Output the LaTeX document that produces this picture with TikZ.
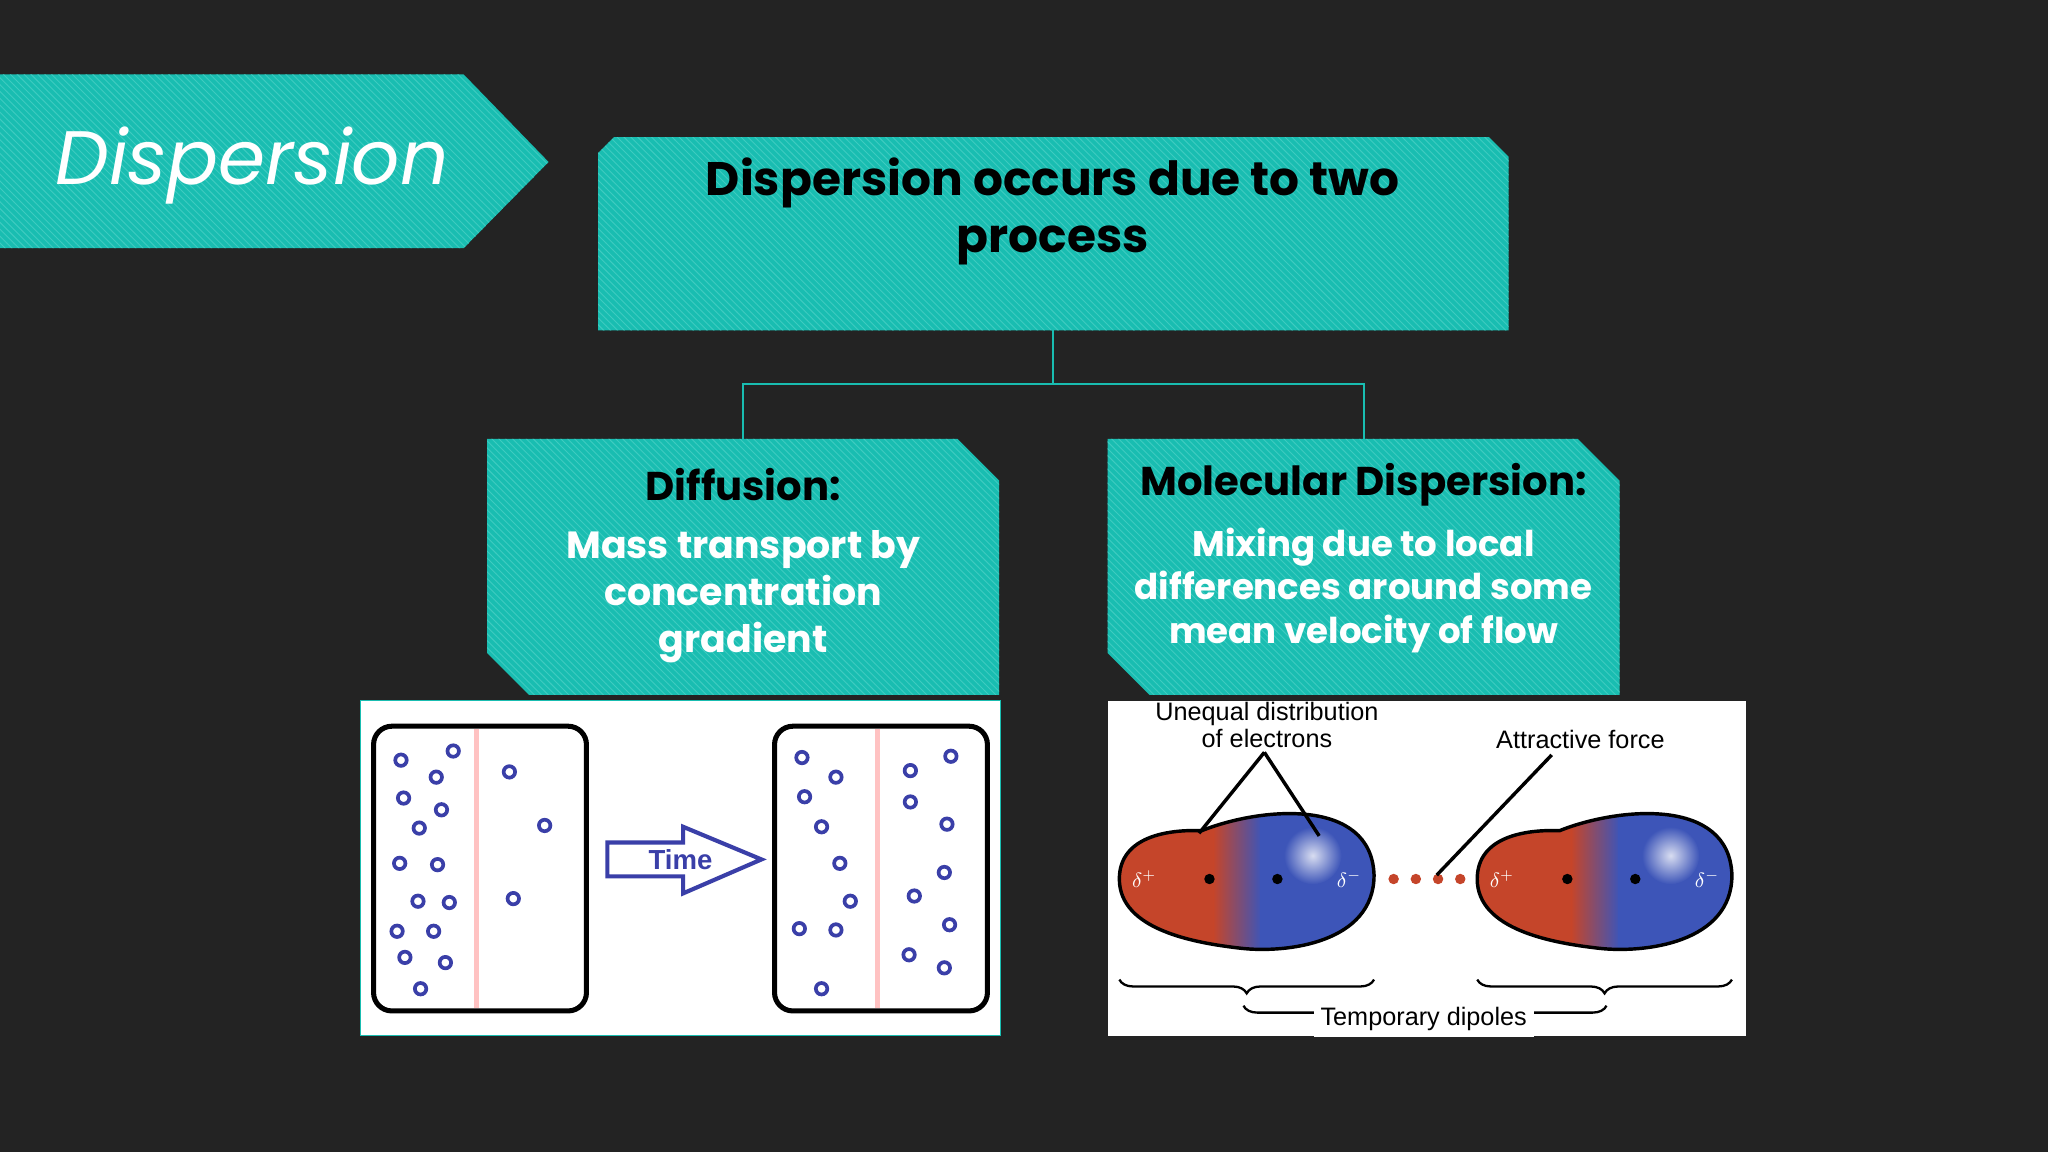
\documentclass[tikz,border=0pt]{standalone}
\usepackage{fontspec}
\setmainfont{Poppins}
\newfontfamily\labelfont{Liberation Sans}
\usetikzlibrary{patterns,decorations.pathreplacing,arrows.meta}
\definecolor{bgdark}{HTML}{232323}
\definecolor{tealbox}{HTML}{19BDB1}
\definecolor{tealstripe}{HTML}{3FCBC0}
\definecolor{dotblue}{HTML}{3A3FA8}
\definecolor{lobered}{HTML}{C5452A}
\definecolor{lobeblue}{HTML}{3D55B8}
\tikzset{
    panel/.style={fill=tealbox,postaction={pattern=north west lines,pattern color=tealstripe}},
    headtext/.style={font=\bfseries\fontsize{17.5}{20}\selectfont,text=black,align=center},
    bodytext/.style={font=\bfseries\fontsize{16.5}{20.5}\selectfont,text=white,align=center},
    tree/.style={draw=tealbox,line width=0.8pt},
    particle/.style={circle,draw=dotblue,line width=1.6pt,inner sep=0pt,minimum size=5pt},
    smalllabel/.style={font=\labelfont\fontsize{11}{12}\selectfont,align=center}
}
\begin{document}
\begin{tikzpicture}[x=0.2mm,y=-0.2mm]
	\fill[bgdark] (0,0) rectangle (1568,882);
	\useasboundingbox (0,0) rectangle (1568,882);

	% title banner
	\path[panel] (0,57) -- (355,57) -- (420,124) -- (355,190) -- (0,190) -- cycle;
	\node[font=\itshape\fontsize{33}{36}\selectfont,text=white] (title) at (193,127) {Dispersion};

	% top box
	\path[panel] (470,105) -- (1140,105) -- (1155,120) -- (1155,253) -- (458,253) -- (458,117) -- cycle;
	\node[headtext,font=\bfseries\fontsize{20.5}{25}\selectfont] (top) at (806,162) {Dispersion occurs due to two\\process};
	\coordinate (topfoot) at (806,253);

	% left box
	\path[panel] (373,336) -- (733,336) -- (765,368) -- (765,532) -- (405,532) -- (373,500) -- cycle;
	\coordinate (lefthead) at (569,336);
	\node[headtext] (diff) at (569,371) {Diffusion:};
	\node[bodytext] (diffbody) at (569,457) {Mass transport by\\concentration\\gradient};

	% right box
	\path[panel] (848,336) -- (1208,336) -- (1240,368) -- (1240,532) -- (880,532) -- (848,500) -- cycle;
	\coordinate (righthead) at (1044,336);
	\node[headtext] (mol) at (1044,371) {Molecular Dispersion:};
	\node[bodytext,font=\bfseries\fontsize{15.5}{19}\selectfont] (molbody) at (1044,452) {Mixing due to local\\differences around some\\mean velocity of flow};

	% tree
	\draw[tree] (topfoot) -- ++(0,41) -| (lefthead);
	\draw[tree] (topfoot) -- ++(0,41) -| (righthead);

	% diffusion picture
	\draw[fill=white,draw=tealbox] (276,536) rectangle (766,793);
	\draw[line width=2.2pt,rounded corners=8pt] (286,556) rectangle (449,774);
	\draw[line width=2.2pt,rounded corners=8pt] (593,556) rectangle (756,774);
	\draw[pink!80!red!60,line width=2pt] (365,558) -- (365,772);
	\draw[pink!80!red!60,line width=2pt] (672,558) -- (672,772);
	\foreach \px/\py in {307/582,347/575,334/595,309/611,338/620,321/634,306/661,335/662,320/690,344/691,304/713,332/713,310/733,341/737,322/757,390/591,417/632,393/688,
		614/580,640/595,616/610,629/633,643/661,651/690,612/711,640/712,629/757,697/590,728/579,697/614,725/631,723/668,700/686,727/708,696/731,723/741}
		\node[particle] at (\px,\py) {};
	\draw[dotblue,line width=1.8pt,fill=white] (465,645) -- (523,645) -- (523,633) -- (583,658) -- (523,684) -- (523,671) -- (465,671) -- cycle;
	\node[font=\labelfont\bfseries\fontsize{12}{12}\selectfont,text=dotblue] (time) at (521,658) {Time};

	% dipole picture
	\fill[white] (848,537) rectangle (1337,793);
	\foreach \dx/\nm in {0/a,274/b}{
		\begin{scope}[xshift=\dx*0.2mm]
			\begin{scope}
				\clip (857,673) .. controls (857,640) and (895,635) .. (920,636) .. controls (965,618) and (1050,610) .. (1052,670) .. controls (1052,722) and (985,730) .. (950,726) .. controls (915,722) and (857,712) .. (857,673);
				\fill[lobered] (850,600) rectangle (930,740);
				\shade[left color=lobered,right color=lobeblue] (929,600) rectangle (966,740);
				\fill[lobeblue] (965,600) rectangle (1060,740);
				\shade[inner color=white!80!lobeblue,outer color=lobeblue] (1005,655) circle (22);
			\end{scope}
			\draw[line width=1.5pt] (857,673) .. controls (857,640) and (895,635) .. (920,636) .. controls (965,618) and (1050,610) .. (1052,670) .. controls (1052,722) and (985,730) .. (950,726) .. controls (915,722) and (857,712) .. (857,673);
			\fill (926,673) circle (4);
			\fill (978,673) circle (4);
			\node[text=white,font=\fontsize{9}{9}\selectfont] (plus\nm) at (876,673) {$\delta^{+}$};
			\node[text=white,font=\fontsize{9}{9}\selectfont] (minus\nm) at (1033,673) {$\delta^{-}$};
			\draw[decorate,decoration={brace,mirror,amplitude=6pt},line width=1pt] (857,750) -- (1052,750);
		\end{scope}
	}
	\foreach \px in {1067,1084,1101,1118}
		\fill[lobered] (\px,673) circle (4);
	\node[smalllabel] (unequal) at (970,555) {Unequal distribution\\of electrons};
	\coordinate (apex) at (968,576);
	\draw[line width=1.5pt] (apex) -- (918,638);
	\draw[line width=1.5pt] (apex) -- (1010,640);
	\node[smalllabel] (attract) at (1210,566) {Attractive force};
	\draw[line width=1.5pt] (1188,578) -- (1100,670);
	\draw[decorate,decoration={brace,mirror,amplitude=6pt},line width=1pt] (952,770) -- (1230,770);
	\node[smalllabel,fill=white,inner sep=3pt] (temp) at (1090,780) {Temporary dipoles};
\end{tikzpicture}
\end{document}
